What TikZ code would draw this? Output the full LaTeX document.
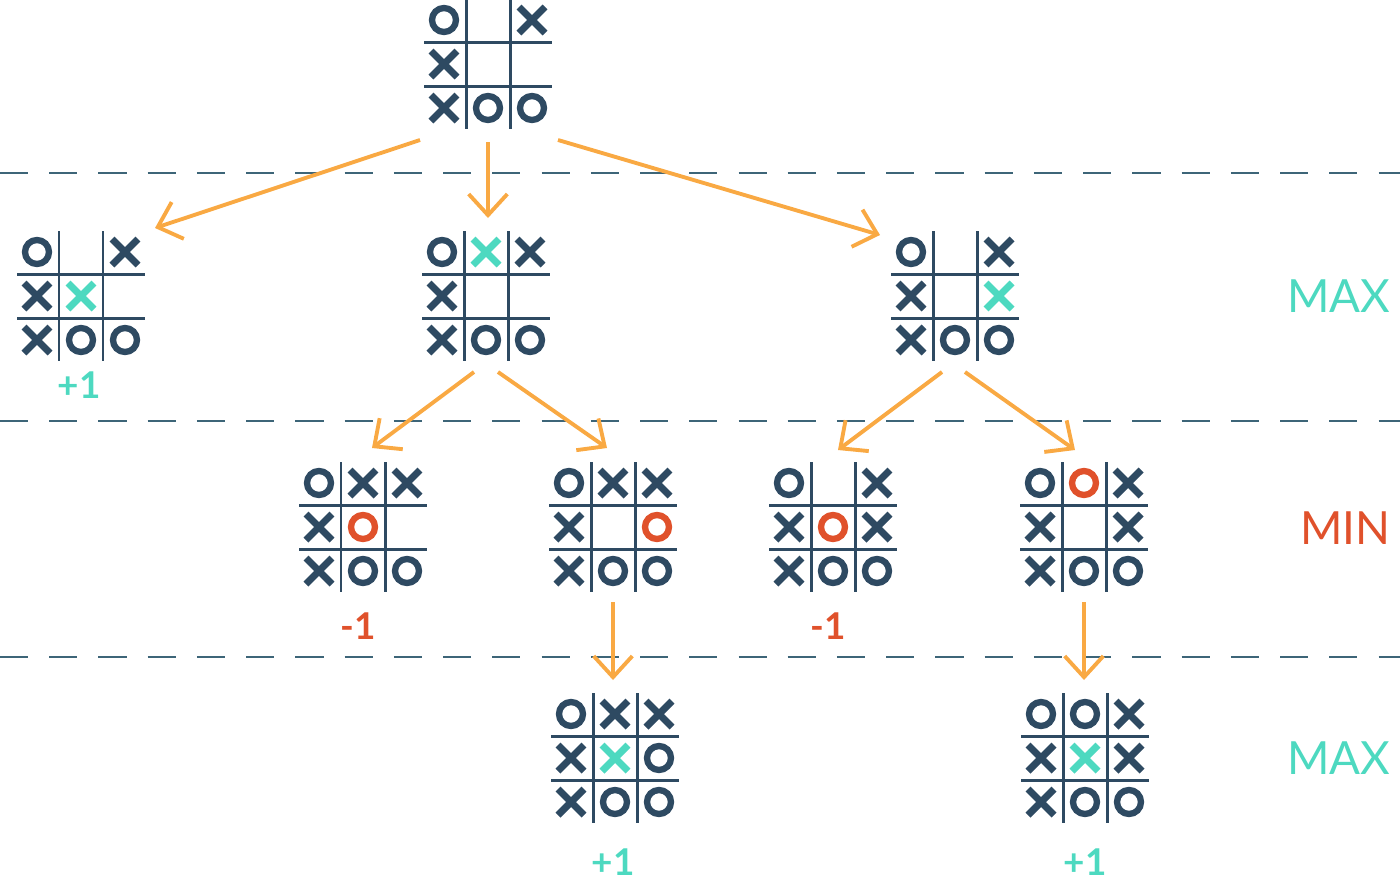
\documentclass[tikz,border=0pt]{standalone}
\usepackage{fontspec}
\setmainfont{Lato}
\usetikzlibrary{arrows.meta}
\definecolor{dk}{HTML}{2E4A62}
\definecolor{tl}{HTML}{4DD9C0}
\definecolor{rd}{HTML}{E0512B}
\definecolor{og}{HTML}{F9A943}
\definecolor{ds}{HTML}{3D6578}
\tikzset{
  grid/.style={dk,line width=0.85pt},
  sepline/.style={ds,line width=0.8pt,dash pattern=on 8pt off 6pt},
  arr/.style={og,line width=1.1pt,-{Straight Barb[length=6pt,width=11pt,line width=1.1pt]}},
  lab/.style={font=\fontsize{13}{13}\selectfont,inner sep=0pt},
  val/.style={font=\bfseries\fontsize{10.5}{10.5}\selectfont},
  pics/mk-x/.style={code={\draw[dk,line width=2pt] (-13,-13)--(13,13) (-13,13)--(13,-13);}},
  pics/mk-X/.style={code={\draw[tl,line width=2pt] (-13,-13)--(13,13) (-13,13)--(13,-13);}},
  pics/mk-o/.style={code={\draw[dk,line width=1.8pt] (0,0) circle (12);}},
  pics/mk-O/.style={code={\draw[rd,line width=1.8pt] (0,0) circle (12);}},
  pics/mk-e/.style={code={}},
}
\newcommand\tttboard[4]{%
  \node[minimum size=1.3cm,inner sep=0] (#1) at (#2,#3) {};
  \draw[grid] (#2-22,#3-65)--(#2-22,#3+65) (#2+22,#3-65)--(#2+22,#3+65)
              (#2-64,#3-22)--(#2+64,#3-22) (#2-64,#3+22)--(#2+64,#3+22);
  \foreach \m [count=\i from 0] in {#4}{
    \pgfmathtruncatemacro\cc{mod(\i,3)}\pgfmathtruncatemacro\rr{int(\i/3)}
    \pic at ({#2+(\cc-1)*44},{#3+(\rr-1)*44}) {mk-\m};
  }}
\begin{document}
\begin{tikzpicture}[x=0.01cm,y=-0.01cm]
\useasboundingbox (0,0) rectangle (1400,881);
\foreach \y in {173,421,657} \draw[sepline] (0,\y)--(1400,\y);
\tttboard{t}{488}{64}{o,e,x,x,e,e,x,o,o}
\tttboard{a}{81}{296}{o,e,x,x,X,e,x,o,o}
\tttboard{b}{486}{296}{o,X,x,x,e,e,x,o,o}
\tttboard{c}{955}{296}{o,e,x,x,e,X,x,o,o}
\tttboard{ba}{363}{527}{o,x,x,x,O,e,x,o,o}
\tttboard{bb}{613}{527}{o,x,x,x,e,O,x,o,o}
\tttboard{ca}{833}{527}{o,e,x,x,O,x,x,o,o}
\tttboard{cb}{1084}{527}{o,O,x,x,e,x,x,o,o}
\tttboard{bbb}{615}{758}{o,x,x,x,X,o,x,o,o}
\tttboard{cbb}{1085}{758}{o,o,x,x,X,x,x,o,o}
\node[val,tl] (va) at (79,385) {+1};
\node[val,rd] (vba) at (358,626) {-1};
\node[val,rd] (vca) at (828,626) {-1};
\node[val,tl] (vbbb) at (613,862) {+1};
\node[val,tl] (vcbb) at (1085,862) {+1};
\node[lab,tl,anchor=east] (m1) at (1391,296) {MAX};
\node[lab,rd,anchor=east] (m2) at (1391,528) {MIN};
\node[lab,tl,anchor=east] (m3) at (1391,758) {MAX};
\coordinate (t1) at (420,140); \coordinate (a1) at (155,228);
\coordinate (t2) at (488,142); \coordinate (b1) at (488,218);
\coordinate (t3) at (558,140); \coordinate (c1) at (880,235);
\coordinate (b2) at (474,372); \coordinate (ba1) at (372,448);
\coordinate (b3) at (498,372); \coordinate (bb1) at (607,448);
\coordinate (c2) at (942,372); \coordinate (ca1) at (838,450);
\coordinate (c3) at (965,372); \coordinate (cb1) at (1075,450);
\coordinate (bb2) at (613,602); \coordinate (bbb1) at (613,680);
\coordinate (cb2) at (1084,602); \coordinate (cbb1) at (1084,680);
\draw[arr] (t1)--(a1); \draw[arr] (t2)--(b1); \draw[arr] (t3)--(c1);
\draw[arr] (b2)--(ba1); \draw[arr] (b3)--(bb1);
\draw[arr] (c2)--(ca1); \draw[arr] (c3)--(cb1);
\draw[arr] (bb2)--(bbb1); \draw[arr] (cb2)--(cbb1);
\end{tikzpicture}
\end{document}
